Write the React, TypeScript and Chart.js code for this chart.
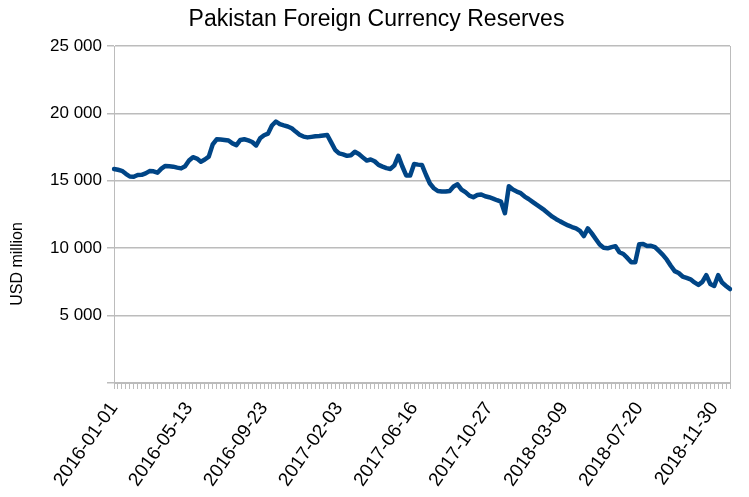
import React, { useEffect, useRef } from 'react';
import { Chart, registerables } from 'chart.js';

Chart.register(...registerables);

// Weekly reserves (USD million), Fridays starting 2016-01-01
const START_DATE = '2016-01-01';
const LABEL_EVERY = 19;
const TITLE = 'Pakistan Foreign Currency Reserves';
const Y_TITLE = 'USD million';

const reserves2016 = [
  15880, 15820, 15740, 15520, 15320, 15300, 15430, 15440, 15550, 15720,
  15700, 15600, 15900, 16100, 16080, 16050, 15980, 15920, 16080, 16500,
  16750, 16650, 16420, 16580, 16790, 17700, 18080, 18060, 18030, 17990,
  17780, 17650, 18030, 18080, 18000, 17880, 17620, 18150, 18380, 18500,
  19100, 19400, 19200, 19110, 19030, 18900, 18650, 18420, 18280, 18220,
  18260, 18300, 18320,
];
const reserves2017 = [
  18360, 18400, 17850, 17300, 17030, 16960, 16850, 16900, 17150, 16990,
  16740, 16500, 16580, 16450, 16180, 16050, 15940, 15880, 16150, 16850,
  16080, 15400, 15400, 16250, 16200, 16170, 15450, 14800, 14450, 14240,
  14200, 14200, 14250, 14580, 14740, 14350, 14160, 13900, 13780, 13950,
  13990, 13850, 13780, 13680, 13560, 13450, 12600, 14600, 14350, 14200,
  14080, 13830,
];
const reserves2018 = [
  13650, 13440, 13230, 13030, 12820, 12580, 12340, 12150, 11990, 11840,
  11690, 11570, 11470, 11280, 10900, 11470, 11100, 10680, 10270, 10030,
  9990, 10080, 10150, 9700, 9570, 9280, 8950, 8950, 10290, 10310,
  10160, 10180, 10080, 9800, 9510, 9150, 8700, 8300, 8160, 7900,
  7800, 7690, 7460, 7280, 7500, 8000, 7350, 7200, 8000, 7450,
  7200, 6970,
];
const reserves = [...reserves2016, ...reserves2017, ...reserves2018];

const yTickValues = [0, 5000, 10000, 15000, 20000, 25000];

function weeklyLabels(start: string, count: number): string[] {
  const out: string[] = [];
  const t0 = Date.parse(start + 'T00:00:00Z');
  for (let i = 0; i < count; i++) {
    out.push(new Date(t0 + i * 7 * 86400000).toISOString().slice(0, 10));
  }
  return out;
}
const categories = weeklyLabels(START_DATE, reserves.length);

function fmt(v: number): string {
  if (v === 0) return '';
  return String(v).replace(/\B(?=(\d{3})+(?!\d))/g, ' ');
}

const FONT = '"Liberation Sans", Arial, sans-serif';
const GRID = '#bcbcbc';

const decor = {
  id: 'decor',
  beforeDatasetsDraw(chart: any) {
    const { ctx, chartArea } = chart;
    ctx.save();
    ctx.strokeStyle = GRID;
    ctx.lineWidth = 1;
    ctx.beginPath();
    ctx.moveTo(Math.round(chartArea.right) + 0.5, chartArea.top);
    ctx.lineTo(Math.round(chartArea.right) + 0.5, chartArea.bottom);
    ctx.stroke();
    ctx.restore();
  },
  afterDraw(chart: any) {
    const { ctx, width } = chart;
    ctx.save();
    ctx.fillStyle = '#000';
    ctx.textAlign = 'center';
    ctx.textBaseline = 'middle';
    ctx.font = '23px ' + FONT;
    ctx.fillText(TITLE, width / 2 + 2, 20);
    ctx.translate(18, 264);
    ctx.rotate(-Math.PI / 2);
    ctx.font = '16px ' + FONT;
    ctx.fillText(Y_TITLE, 0, 0);
    ctx.restore();
  },
};

export default function App() {
  const ref = useRef<HTMLCanvasElement | null>(null);
  useEffect(() => {
    document.body.style.margin = '0';
    const canvas = ref.current;
    if (!canvas) return;
    const chart = new Chart(canvas, {
      type: 'line',
      data: {
        labels: categories,
        datasets: [
          {
            data: reserves,
            borderColor: '#004586',
            borderWidth: 4.5,
            pointRadius: 0,
            tension: 0,
            fill: false,
            borderJoinStyle: 'round',
            borderCapStyle: 'round',
          },
        ],
      },
      options: {
        responsive: false,
        animation: false,
        devicePixelRatio: 1,
        layout: { padding: { left: 0, right: 19, top: 46, bottom: 0 } },
        plugins: {
          legend: { display: false },
          tooltip: { enabled: false },
          title: { display: false },
        },
        scales: {
          x: {
            type: 'category',
            offset: false,
            afterFit: (s: any) => {
              s.height = 114;
              s.paddingRight = 0;
              s.paddingLeft = 0;
            },
            grid: {
              display: true,
              drawOnChartArea: false,
              drawTicks: true,
              tickLength: 6,
              color: GRID,
            },
            border: { display: true, color: GRID, width: 1 },
            ticks: {
              autoSkip: false,
              minRotation: 55,
              maxRotation: 55,
              padding: 9,
              color: '#000',
              font: { family: FONT, size: 19 },
              callback: (_v: any, i: number) => (i % LABEL_EVERY === 0 ? categories[i] : ''),
            },
          },
          y: {
            min: 0,
            max: 25000,
            afterFit: (s: any) => {
              s.width = 114;
              s.paddingTop = 0;
              s.paddingBottom = 0;
            },
            afterBuildTicks: (s: any) => {
              s.ticks = yTickValues.map((v) => ({ value: v }));
            },
            grid: {
              color: GRID,
              lineWidth: 1.5,
              tickLength: 7,
            },
            border: { display: true, color: GRID, width: 1 },
            ticks: {
              padding: 5,
              color: '#000',
              font: { family: FONT, size: 17 },
              callback: (v: any) => fmt(Number(v)),
            },
          },
        },
      },
      plugins: [decor],
    });
    return () => chart.destroy();
  }, []);
  return (
    <div style={{ position: 'absolute', left: 0, top: 0, width: 749, height: 497 }}>
      <canvas ref={ref} width={749} height={497} />
    </div>
  );
}
